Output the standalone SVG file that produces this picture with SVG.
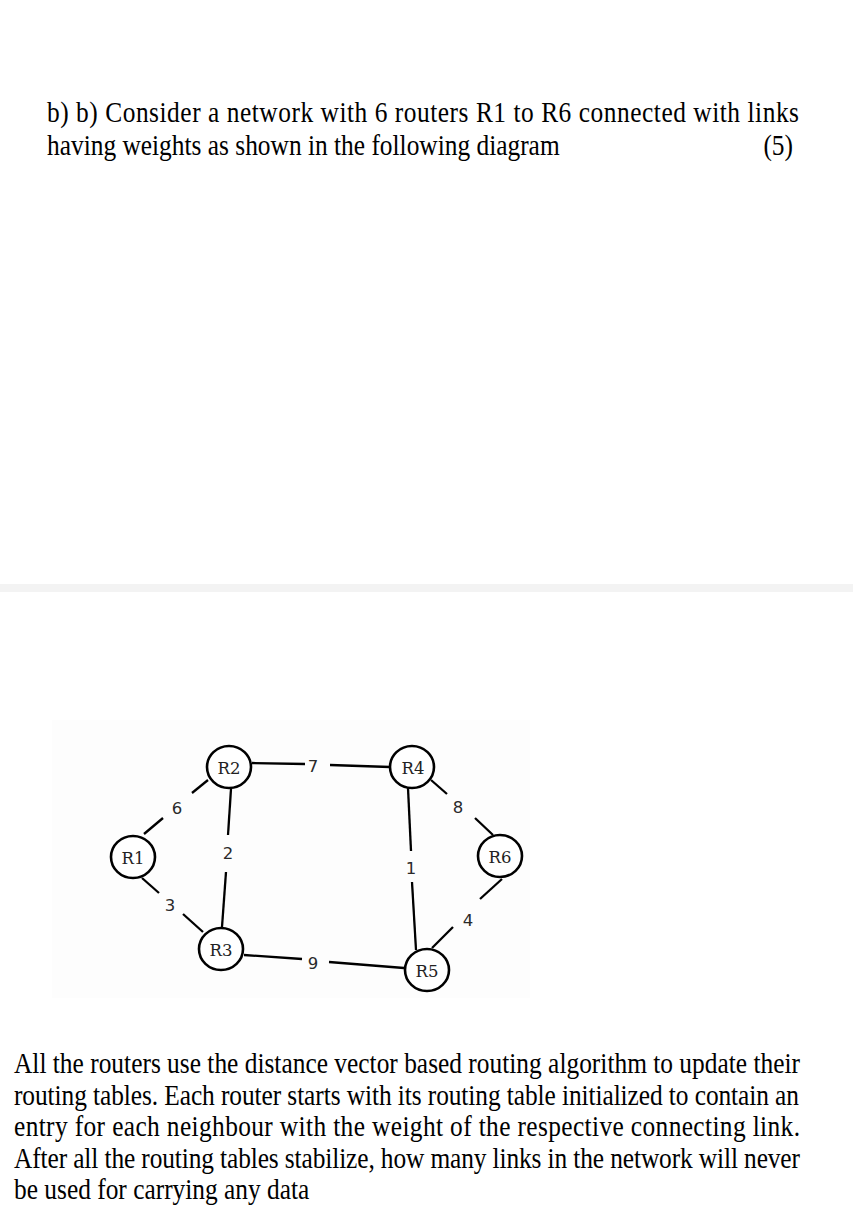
<svg xmlns="http://www.w3.org/2000/svg" width="853" height="1222" viewBox="0 0 853 1222">
  <style>
    .para { font-family: "Liberation Serif", "Times New Roman", serif; font-size: 25.4px; fill: #000; }
    .node ellipse { fill: #fff; stroke: #000; stroke-width: 2.6; }
    .node text { font-family: "DejaVu Serif", "Liberation Serif", serif; font-size: 16.5px; fill: #222; text-anchor: middle; dominant-baseline: central; }
    .edges line { stroke: #000; stroke-width: 2.3; stroke-linecap: butt; }
    .wt { font-family: "DejaVu Sans", "Liberation Sans", sans-serif; font-size: 16.5px; fill: #2a2a2a; text-anchor: middle; dominant-baseline: central; }
  </style>
  <rect x="0" y="0" width="853" height="1222" fill="#ffffff"/>
  <rect x="0" y="584" width="853" height="8" fill="#f3f3f3"/>
  <rect x="52" y="720" width="478" height="278" fill="#fdfdfd"/>

  <g id="question-top">
    <text class="para" transform="translate(47,122) scale(1,1.15)" textLength="752" lengthAdjust="spacing">b) b) Consider a network with 6 routers R1 to R6 connected with links</text>
    <text class="para" transform="translate(47,155) scale(1,1.15)">having weights as shown in the following diagram</text>
    <text class="para" transform="translate(793,155) scale(1,1.15)" text-anchor="end">(5)</text>
  </g>

  <g id="connectors" class="edges">
    <g id="e-r2-r4">
      <line x1="252" y1="763" x2="305" y2="764"/>
      <line x1="330" y1="765" x2="390" y2="767"/>
      <text class="wt" x="313" y="766">7</text>
    </g>
    <g id="e-r1-r2">
      <line x1="208" y1="780" x2="192" y2="793"/>
      <line x1="163" y1="818" x2="144" y2="834"/>
      <text class="wt" x="177" y="808">6</text>
    </g>
    <g id="e-r2-r3">
      <line x1="231" y1="789" x2="228" y2="835"/>
      <line x1="226" y1="872" x2="222" y2="927"/>
      <text class="wt" x="228" y="853">2</text>
    </g>
    <g id="e-r1-r3">
      <line x1="142" y1="878" x2="159" y2="893"/>
      <line x1="183" y1="914" x2="203" y2="932"/>
      <text class="wt" x="170" y="905">3</text>
    </g>
    <g id="e-r3-r5">
      <line x1="244" y1="955" x2="302" y2="959"/>
      <line x1="329" y1="962" x2="404" y2="968"/>
      <text class="wt" x="313" y="963">9</text>
    </g>
    <g id="e-r4-r5">
      <line x1="408" y1="788" x2="411" y2="851"/>
      <line x1="412" y1="882" x2="416" y2="950"/>
      <text class="wt" x="411" y="868">1</text>
    </g>
    <g id="e-r4-r6">
      <line x1="431" y1="780" x2="447" y2="794"/>
      <line x1="475" y1="818" x2="493" y2="835"/>
      <text class="wt" x="458" y="807">8</text>
    </g>
    <g id="e-r6-r5">
      <line x1="502" y1="879" x2="480" y2="899"/>
      <line x1="453" y1="927" x2="432" y2="948"/>
      <text class="wt" x="468" y="920">4</text>
    </g>
  </g>

  <g id="R1" class="node"><ellipse cx="133" cy="857" rx="22" ry="21"/><text x="133" y="858">R1</text></g>
  <g id="R2" class="node"><ellipse cx="229" cy="767" rx="22" ry="21"/><text x="229" y="768">R2</text></g>
  <g id="R3" class="node"><ellipse cx="221" cy="949" rx="22" ry="21"/><text x="221" y="950">R3</text></g>
  <g id="R4" class="node"><ellipse cx="412" cy="767" rx="22" ry="21"/><text x="413" y="768">R4</text></g>
  <g id="R5" class="node"><ellipse cx="427" cy="970" rx="22" ry="21"/><text x="427" y="971">R5</text></g>
  <g id="R6" class="node"><ellipse cx="500" cy="856" rx="22" ry="21"/><text x="500" y="857">R6</text></g>

  <g id="question-bottom">
    <text class="para" transform="translate(14,1073) scale(1,1.15)" textLength="786" lengthAdjust="spacing">All the routers use the distance vector based routing algorithm to update their</text>
    <text class="para" transform="translate(14,1104.5) scale(1,1.15)" textLength="785" lengthAdjust="spacing">routing tables. Each router starts with its routing table initialized to contain an</text>
    <text class="para" transform="translate(14,1136) scale(1,1.15)" textLength="786" lengthAdjust="spacing">entry for each neighbour with the weight of the respective connecting link.</text>
    <text class="para" transform="translate(14,1167.5) scale(1,1.15)" textLength="786" lengthAdjust="spacing">After all the routing tables stabilize, how many links in the network will never</text>
    <text class="para" transform="translate(14,1199) scale(1,1.15)">be used for carrying any data</text>
  </g>
</svg>
